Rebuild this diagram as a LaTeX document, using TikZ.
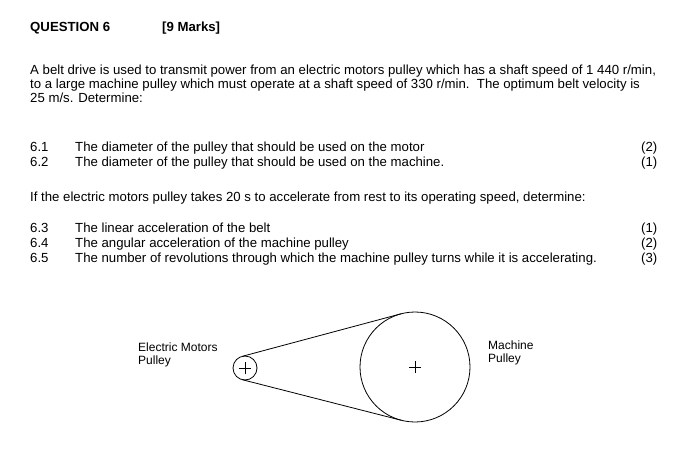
\documentclass[tikz,border=0pt]{standalone}
\usepackage{fontspec}
\setmainfont{Liberation Sans}
\usetikzlibrary{calc}
\begin{document}
\begin{tikzpicture}[x=1pt,y=1pt,
  txt/.style={anchor=base west,inner sep=0pt,font=\fontsize{13.2}{15}\selectfont},
  small/.style={anchor=base west,inner sep=0pt,font=\fontsize{12}{13}\selectfont,align=left},
  wheel/.style={draw,circle,line width=0.8pt}]
\useasboundingbox (0,0) rectangle (683,-456);
\node[txt,font=\fontsize{13.2}{15}\selectfont\bfseries] (q) at (30,-31) {QUESTION 6};
\node[txt,font=\fontsize{13.2}{15}\selectfont\bfseries] (m) at (162,-31) {[9 Marks]};
\node[txt] (p1) at (30,-74) {A belt drive is used to transmit power from an electric motors pulley which has a shaft speed of 1 440 r/min,};
\node[txt] (p2) at (30,-88) {to a large machine pulley which must operate at a shaft speed of 330 r/min.\ \ The optimum belt velocity is};
\node[txt] (p3) at (30,-102) {25 m/s. Determine:};
\node[txt] (n1) at (30,-151) {6.1}; \node[txt] (t1) at (75,-151) {The diameter of the pulley that should be used on the motor}; \node[txt] (k1) at (641,-151) {(2)};
\node[txt] (n2) at (30,-166) {6.2}; \node[txt] (t2) at (75,-166) {The diameter of the pulley that should be used on the machine.}; \node[txt] (k2) at (641,-166) {(1)};
\node[txt] (p4) at (30,-201) {If the electric motors pulley takes 20 s to accelerate from rest to its operating speed, determine:};
\node[txt] (n3) at (30,-232) {6.3}; \node[txt] (t3) at (75,-232) {The linear acceleration of the belt}; \node[txt] (k3) at (641,-232) {(1)};
\node[txt] (n4) at (30,-247) {6.4}; \node[txt] (t4) at (75,-247) {The angular acceleration of the machine pulley}; \node[txt] (k4) at (641,-247) {(2)};
\node[txt] (n5) at (30,-262) {6.5}; \node[txt] (t5) at (75,-262) {The number of revolutions through which the machine pulley turns while it is accelerating.}; \node[txt] (k5) at (641,-262) {(3)};
% pulleys
\coordinate (c1) at (245,-368);
\coordinate (c2) at (415,-367);
\node[wheel,minimum size=24pt,inner sep=0pt] (s) at (c1) {};
\node[wheel,minimum size=110pt,inner sep=0pt] (b) at (c2) {};
\draw[line width=0.6pt] ($(c1)+(-6,0)$) -- ($(c1)+(6,0)$) ($(c1)+(0,-6)$) -- ($(c1)+(0,6)$);
\draw[line width=0.6pt] ($(c2)+(-6,0)$) -- ($(c2)+(6,0)$) ($(c2)+(0,-6)$) -- ($(c2)+(0,6)$);
\draw[line width=0.8pt] ($(c1)+(104.3:12)$) -- ($(c2)+(104.3:55)$);
\draw[line width=0.8pt] ($(c1)+(-104.3:12)$) -- ($(c2)+(-104.3:55)$);
\node[small] (l1) at (138,-364) {Electric Motors\\Pulley};
\node[small] (l2) at (488,-362) {Machine\\Pulley};
\end{tikzpicture}
\end{document}
